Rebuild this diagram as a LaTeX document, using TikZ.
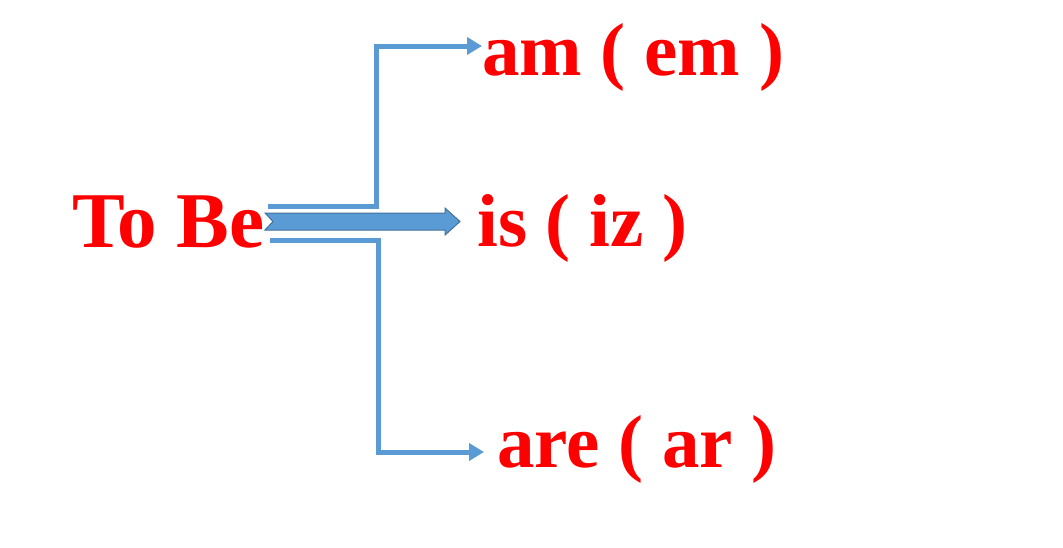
\documentclass[tikz,border=0pt]{standalone}
\usepackage{fontspec}
\setmainfont{Liberation Serif}
\usetikzlibrary{arrows.meta}
\definecolor{lineblue}{HTML}{5B9BD5}
\definecolor{edgeblue}{HTML}{41719C}
\tikzset{
    word/.style={anchor=base west, inner sep=0pt, text=red, font=\fontsize{79}{83}\selectfont\bfseries},
    form/.style={word, font=\fontsize{75}{80}\selectfont\bfseries},
    branch/.style={draw=lineblue, line width=5pt, -{Triangle[length=15pt,width=17pt]}}
}
\begin{document}
\begin{tikzpicture}[x=1pt, y=-1pt]
\useasboundingbox (0,0) rectangle (1063,547);

% Main word
\node[word] (tobe) at (72,247) {To Be};

% Forms
\node[form] (am) at (482,75) {am ( em )};
\node[form] (is) at (477,246) {is ( iz )};
\node[form] (are) at (497,467) {are ( ar )};

% Branch ends
\coordinate (upstart) at (268,206);
\coordinate (amin) at (482,46);
\coordinate (lowstart) at (270,240);
\coordinate (arein) at (484,452);

% Upper and lower branches
\draw[branch] (upstart) -- (376,206) -- (376,46) -- (amin);
\draw[branch] (lowstart) -- (378,240) -- (378,452) -- (arein);

% Block arrow to is
\filldraw[fill=lineblue, draw=edgeblue, line width=1pt]
    (265,213) -- (445,213) -- (445,208) -- (460,221.5) -- (445,235) -- (445,230)
    -- (265,230) -- (273,221.5) -- cycle;
\end{tikzpicture}
\end{document}
